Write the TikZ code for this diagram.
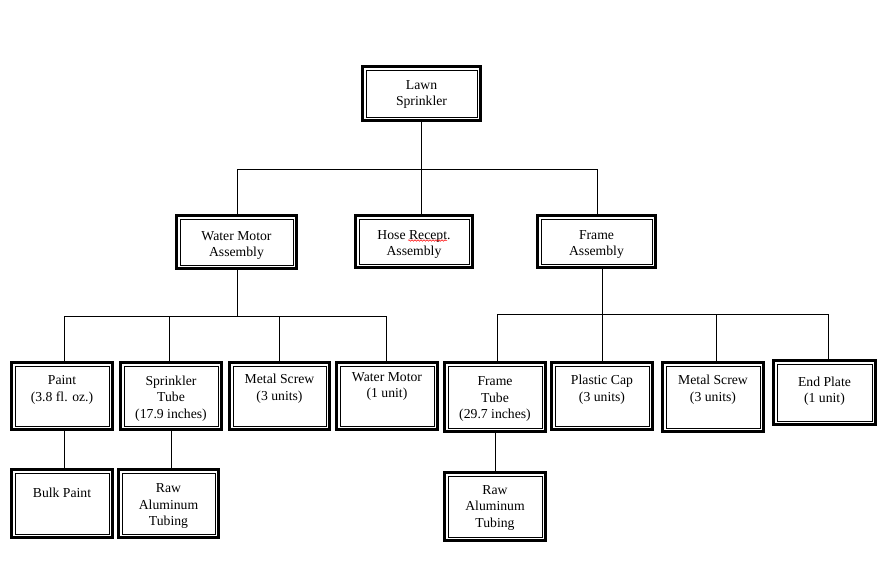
\documentclass[tikz,border=0pt]{standalone}
\usepackage{fontspec}
\setmainfont{Liberation Serif}
\usetikzlibrary{calc,decorations.pathmorphing}
\tikzset{
  outerbox/.style={draw, line width=1.8pt, inner sep=0pt, fill=white},
  midline/.style={line width=0.8pt},
  lbl/.style={align=center, inner sep=0pt, font=\fontsize{13.7}{16.5}\selectfont},
  conn/.style={line width=0.8pt}
}
% name, cx, cy, w, h, text, text-top y
\newcommand\tribox[7]{%
  \node[outerbox, minimum width=#4pt, minimum height=#5pt] (#1) at (#2,#3) {};
  \draw[midline] ($(#1.south west)+(2.6pt,2.6pt)$) rectangle ($(#1.north east)+(-2.6pt,-2.6pt)$);
  \draw[midline] ($(#1.south west)+(4.9pt,4.9pt)$) rectangle ($(#1.north east)+(-4.9pt,-4.9pt)$);
  \node[lbl, anchor=north] (#1t) at (#2,#7) {#6};
}
\begin{document}
\begin{tikzpicture}[x=1pt,y=-1pt]
\useasboundingbox[fill=white] (0,0) rectangle (891,567);

% junction coordinates
\coordinate (j1) at (421,169);
\coordinate (j2) at (237,316);
\coordinate (j3) at (602,314);

% connectors (drawn first, boxes cover ends)
\draw[conn] (421,121) -- (j1);
\draw[conn] (237,169) -- (597,169);
\draw[conn] (237,169) -- (237,215);
\draw[conn] (j1) -- (421,215);
\draw[conn] (597,169) -- (597,215);

\draw[conn] (237,269) -- (j2);
\draw[conn] (64,316) -- (386,316);
\foreach \x in {64,169,279,386} \draw[conn] (\x,316) -- (\x,362);

\draw[conn] (602,268) -- (j3);
\draw[conn] (497,314) -- (828,314);
\foreach \x/\y in {497/362,602/362,716/362,828/360} \draw[conn] (\x,314) -- (\x,\y);

\draw[conn] (64,430) -- (64,469);
\draw[conn] (171,430) -- (171,469);
\draw[conn] (495,432) -- (495,472);

% boxes
\tribox{lawn}{421.5}{93.5}{119}{55}{Lawn\\Sprinkler}{80}
\tribox{wma}{236.5}{242}{121}{54}{Water Motor\\Assembly}{231}
\tribox{hose}{414}{241.5}{118}{53}{Hose Recept.\\Assembly}{230}
\tribox{fa}{596.5}{241.5}{119}{53}{Frame\\Assembly}{230}

\tribox{paint}{62}{396}{102}{68}{Paint\\(3.8 fl. oz.)}{375.5}
\tribox{stube}{171}{396}{102}{68}{Sprinkler\\Tube\\(17.9 inches)}{375.5}
\tribox{screwa}{279.5}{396}{101}{68}{Metal Screw\\(3 units)}{374}
\tribox{motor}{387}{396}{102}{68}{Water Motor\\(1 unit)}{372}
\tribox{ftube}{495}{397}{102}{70}{Frame\\Tube\\(29.7 inches)}{376.5}
\tribox{cap}{602}{396}{102}{68}{Plastic Cap\\(3 units)}{375}
\tribox{screwb}{713}{397}{102}{70}{Metal Screw\\(3 units)}{375}
\tribox{plate}{824.5}{392.5}{103}{65}{End Plate\\(1 unit)}{376.5}

\tribox{bulk}{62}{503.5}{102}{69}{Bulk Paint}{487.5}
\tribox{rawa}{168.5}{503.5}{101}{69}{Raw\\Aluminum\\Tubing}{483.5}
\tribox{rawb}{495}{506.5}{102}{69}{Raw\\Aluminum\\Tubing}{485}

% spell-check squiggle under "Recept."
\draw[red, line width=0.5pt, decorate, decoration={snake, amplitude=0.8pt, segment length=3pt}] (408,240.5) -- (447,240.5);
\end{tikzpicture}
\end{document}
